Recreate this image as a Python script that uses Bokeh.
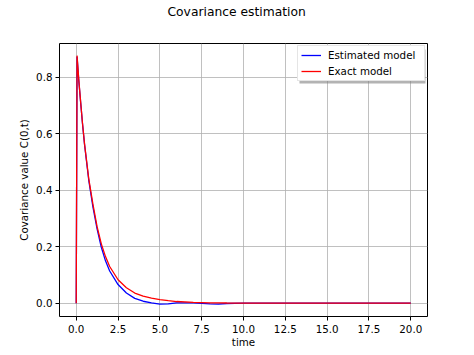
from bokeh.plotting import figure
from bokeh.models import (Range1d, FixedTicker, PrintfTickFormatter, Legend, LegendItem,
                          BoxAnnotation, ColumnDataSource, Title)
from bokeh.embed import file_html
from bokeh.resources import INLINE

# ---- data ----
time = [0.0, 0.05, 0.15, 0.25, 0.375, 0.5, 0.75, 1.0, 1.25, 1.5, 1.75, 2.0, 2.5,
        3.0, 3.5, 4.0, 4.5, 5.0, 5.5, 6.0, 7.0, 8.0, 8.5, 9.0, 10.0, 12.0,
        15.0, 20.0]
estimated = [0.0, 0.872, 0.79, 0.72, 0.635, 0.56, 0.435, 0.34, 0.262, 0.198,
             0.15, 0.114, 0.066, 0.036, 0.017, 0.007, 0.001, -0.003, -0.002,
             0.001, 0.001, -0.002, -0.003, -0.001, 0.0, 0.0, 0.0, 0.0]
exact = [0.0, 0.876, 0.792, 0.722, 0.637, 0.562, 0.44, 0.35, 0.27, 0.21, 0.165,
         0.13, 0.083, 0.055, 0.036, 0.025, 0.018, 0.013, 0.009, 0.006, 0.003,
         0.0015, 0.001, 0.0007, 0.0003, 0.0001, 0.0, 0.0]
x_ticks = [0.0, 2.5, 5.0, 7.5, 10.0, 12.5, 15.0, 17.5, 20.0]
y_ticks = [0.0, 0.2, 0.4, 0.6, 0.8]
title_text = "Covariance estimation"

FONT = "DejaVu Sans"

src = ColumnDataSource(dict(t=time, est=estimated, ex=exact))

p = figure(width=474, height=355, output_backend="svg", toolbar_location=None,
           x_range=Range1d(-1.0, 21.0), y_range=Range1d(-0.047, 0.919),
           min_border_left=59, min_border_right=47, min_border_top=43,
           min_border_bottom=39, title=None)

# spacer panel (nearest the frame) so that the real title sits near the top
spacer = Title(text=" ", text_font_size="1px", standoff=22, text_color="white")
p.add_layout(spacer, "above")
title = Title(text=title_text, text_font=FONT, text_font_size="12.3px",
              text_font_style="normal", text_color="black", align="left",
              offset=108, standoff=0, vertical_align="bottom")
p.add_layout(title, "above")

p.outline_line_color = "black"
p.outline_line_width = 1
p.background_fill_color = "white"
p.border_fill_color = "white"

for ax in (p.xaxis[0], p.yaxis[0]):
    ax.axis_line_color = None
    ax.major_tick_out = 4
    ax.major_tick_in = 0
    ax.minor_tick_line_color = None
    ax.major_tick_line_color = "black"
    ax.major_label_text_font = FONT
    ax.major_label_text_font_size = "10.3px"
    ax.major_label_text_color = "black"
    ax.axis_label_text_font = FONT
    ax.axis_label_text_font_size = "10.3px"
    ax.axis_label_text_font_style = "normal"
    ax.axis_label_text_color = "black"
    ax.formatter = PrintfTickFormatter(format="%.1f")

p.xaxis.ticker = FixedTicker(ticks=x_ticks)
p.yaxis.ticker = FixedTicker(ticks=y_ticks)
p.xaxis.axis_label = "time"
p.yaxis.axis_label = "Covariance value C(0,t)"
p.xaxis.major_label_standoff = 4
p.yaxis.major_label_standoff = 3
p.xaxis.axis_label_standoff = 0
p.yaxis.axis_label_standoff = 3

p.grid.grid_line_color = "#b0b0b0"
p.grid.grid_line_width = 0.8

r_est = p.line("t", "est", source=src, line_color="blue", line_width=1.3)
r_ex = p.line("t", "ex", source=src, line_color="red", line_width=1.3)

# legend drop shadow (frame-relative screen units, y from bottom)
shadow = BoxAnnotation(left=240, right=366, top=267, bottom=233,
                       left_units="screen", right_units="screen",
                       top_units="screen", bottom_units="screen",
                       fill_color="#808080", fill_alpha=0.6, line_color=None)
p.add_layout(shadow)

legend = Legend(items=[LegendItem(label="Estimated model", renderers=[r_est]),
                       LegendItem(label="Exact model", renderers=[r_ex])],
                location=(238, 235))
legend.label_text_font = FONT
legend.label_text_font_size = "10.3px"
legend.label_text_color = "black"
legend.glyph_width = 20
legend.glyph_height = 12
legend.label_height = 12
legend.label_width = 93
legend.spacing = 4
legend.padding = 3
legend.margin = 0
legend.label_standoff = 7
legend.border_line_color = "#cccccc"
legend.border_line_width = 1
legend.background_fill_color = "white"
legend.background_fill_alpha = 1.0
p.add_layout(legend)

open("out.html", "w").write(file_html(p, INLINE))
